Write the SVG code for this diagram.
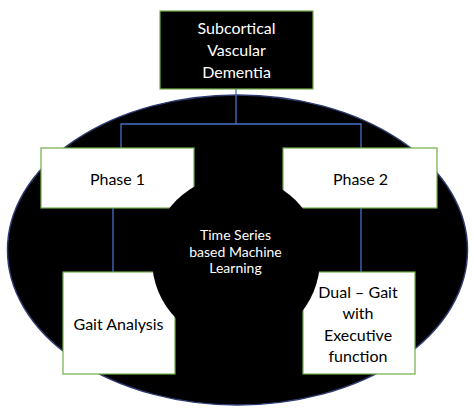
<svg xmlns="http://www.w3.org/2000/svg" width="474" height="418" viewBox="0 0 474 418">
<style>
.bg{fill:#ffffff}
.ell{fill:#000000;stroke:#2E3B70;stroke-width:1.5}
.conn line{stroke:#4472C4;stroke-width:1.3}
.wbox{fill:#ffffff;stroke:#70AD47;stroke-width:1.2}
.bbox{fill:#000000;stroke:#70AD47;stroke-width:1.2}
.t{font-family:Lato,"Liberation Sans",sans-serif;font-size:16px;text-anchor:middle}
.dark{fill:#000000}
.light{fill:#ffffff}
.small{font-size:14px}
</style>
<rect class="bg" x="0" y="0" width="474" height="418"/>
<g id="outer-ellipse">
<ellipse class="ell" cx="237.5" cy="250" rx="230" ry="155"/>
</g>
<g id="connectors" class="conn">
<line x1="236" y1="89" x2="236" y2="124"/>
<line x1="120.5" y1="124" x2="361.5" y2="124"/>
<line x1="121" y1="124" x2="121" y2="148"/>
<line x1="361" y1="124" x2="361" y2="148"/>
<line x1="113" y1="208" x2="113" y2="272"/>
<line x1="361" y1="208" x2="361" y2="272"/>
</g>
<g id="node-svd">
<rect class="bbox" x="160" y="11" width="153" height="78"/>
<text class="t light" x="236.5" y="33.5">Subcortical</text>
<text class="t light" x="236.5" y="55.5">Vascular</text>
<text class="t light" x="236.5" y="77.5">Dementia</text>
</g>
<g id="node-phase1">
<rect class="wbox" x="41" y="148" width="153" height="60"/>
<text class="t dark" x="117.5" y="185">Phase 1</text>
</g>
<g id="node-phase2">
<rect class="wbox" x="283" y="148" width="154" height="60"/>
<text class="t dark" x="360.5" y="185">Phase 2</text>
</g>
<g id="node-gait">
<rect class="wbox" x="63" y="272" width="112" height="102"/>
<text class="t dark" x="118.5" y="330">Gait Analysis</text>
</g>
<g id="node-dual">
<rect class="wbox" x="303" y="272" width="112" height="102"/>
<text class="t dark" x="358" y="297.5">Dual – Gait</text>
<text class="t dark" x="358" y="319">with</text>
<text class="t dark" x="358" y="341">Executive</text>
<text class="t dark" x="358" y="362">function</text>
</g>
<g id="node-tsml">
<circle cx="236" cy="259.5" r="84" fill="#000000"/>
<text class="t light small" x="235.5" y="239.5">Time Series</text>
<text class="t light small" x="235.5" y="256.5">based Machine</text>
<text class="t light small" x="235.5" y="273">Learning</text>
</g>
</svg>
